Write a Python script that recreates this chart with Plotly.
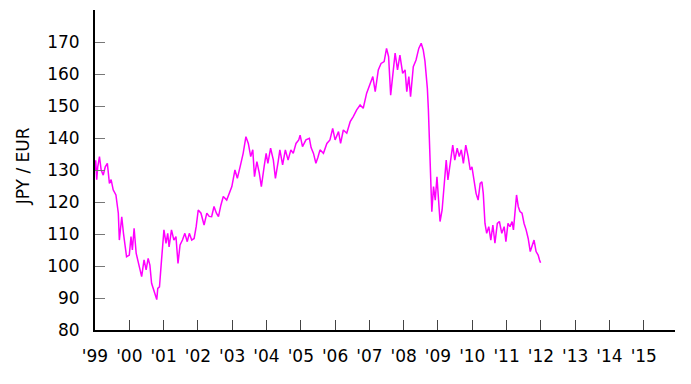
import plotly.graph_objects as go

# Decimal-year time points
years = [
    1999.00, 1999.02, 1999.05, 1999.08, 1999.13, 1999.18, 1999.24, 1999.30, 1999.36, 1999.42,
    1999.47, 1999.53, 1999.61, 1999.68, 1999.71, 1999.78, 1999.83, 1999.88, 1999.92, 2000.00,
    2000.05, 2000.09, 2000.14, 2000.20, 2000.25, 2000.29, 2000.36, 2000.43, 2000.49, 2000.55,
    2000.60, 2000.65, 2000.72, 2000.77, 2000.80, 2000.83, 2000.88, 2000.94, 2001.01, 2001.07,
    2001.12, 2001.16, 2001.23, 2001.30, 2001.36, 2001.42, 2001.48, 2001.55, 2001.62, 2001.69,
    2001.75, 2001.82, 2001.89, 2001.95, 2002.01, 2002.09, 2002.18, 2002.26, 2002.33, 2002.40,
    2002.47, 2002.54, 2002.60, 2002.67, 2002.74, 2002.84, 2002.92, 2002.99, 2003.08, 2003.15,
    2003.23, 2003.32, 2003.40, 2003.47, 2003.54, 2003.60, 2003.65, 2003.72, 2003.79, 2003.85,
    2003.93, 2003.99, 2004.04, 2004.12, 2004.20, 2004.26, 2004.34, 2004.39, 2004.47, 2004.55,
    2004.63, 2004.71, 2004.78, 2004.86, 2004.94, 2004.98, 2005.05, 2005.15, 2005.25, 2005.30,
    2005.37, 2005.44, 2005.50, 2005.56, 2005.66, 2005.76, 2005.85, 2005.93, 2006.00, 2006.10,
    2006.16, 2006.24, 2006.34, 2006.44, 2006.53, 2006.63, 2006.73, 2006.82, 2006.92, 2007.02,
    2007.10, 2007.17, 2007.26, 2007.34, 2007.43, 2007.50, 2007.56, 2007.62, 2007.68, 2007.75,
    2007.82, 2007.89, 2007.97, 2008.04, 2008.09, 2008.15, 2008.20, 2008.28, 2008.36, 2008.44,
    2008.51, 2008.57, 2008.62, 2008.65, 2008.69, 2008.72, 2008.75, 2008.79, 2008.82, 2008.87,
    2008.92, 2008.97, 2009.01, 2009.06, 2009.12, 2009.18, 2009.24, 2009.29, 2009.35, 2009.43,
    2009.49, 2009.56, 2009.62, 2009.68, 2009.74, 2009.81, 2009.88, 2009.94, 2009.99, 2010.05,
    2010.11, 2010.17, 2010.23, 2010.28, 2010.32, 2010.37, 2010.42, 2010.48, 2010.54, 2010.60,
    2010.66, 2010.73, 2010.79, 2010.86, 2010.93, 2010.98, 2011.04, 2011.10, 2011.16, 2011.20,
    2011.25, 2011.29, 2011.34, 2011.39, 2011.45, 2011.51, 2011.57, 2011.63, 2011.69, 2011.74,
    2011.80, 2011.86, 2011.92, 2011.96, 2011.99,
]

# JPY per EUR values
jpy_per_eur = [
    130.0, 133.0, 127.0, 131.0, 134.2, 130.0, 128.4, 131.0, 132.1, 125.8,
    127.0, 123.8, 122.2, 116.5, 108.1, 115.4, 110.2, 106.0, 102.9, 103.4,
    109.2, 105.0, 111.8, 104.0, 102.0, 99.8, 96.7, 101.9, 98.8, 102.4,
    100.3, 94.6, 92.5, 90.4, 89.5, 93.0, 93.5, 101.9, 111.3, 107.1,
    110.2, 106.0, 111.3, 108.1, 109.2, 100.8, 106.6, 108.1, 110.2, 107.6,
    110.2, 108.1, 108.6, 112.3, 117.5, 116.5, 112.8, 116.5, 115.5, 115.4,
    118.6, 116.5, 115.4, 119.0, 121.7, 120.6, 123.0, 124.8, 130.0, 127.4,
    131.0, 135.2, 140.4, 138.3, 134.2, 136.3, 127.9, 132.6, 129.0, 124.8,
    131.0, 135.2, 132.1, 136.8, 133.1, 127.4, 132.6, 136.3, 131.6, 136.3,
    133.1, 136.3, 135.2, 138.3, 139.4, 140.9, 137.3, 139.4, 139.9, 137.0,
    135.2, 132.1, 134.0, 136.3, 135.2, 138.3, 139.4, 143.0, 139.4, 142.0,
    138.3, 142.5, 141.5, 145.1, 146.7, 148.8, 150.3, 149.3, 154.0, 157.1,
    159.2, 154.5, 161.3, 163.3, 163.9, 168.0, 165.4, 153.4, 160.2, 166.5,
    161.3, 165.9, 160.2, 161.3, 154.5, 159.2, 152.9, 162.3, 164.4, 168.0,
    169.6, 167.5, 164.0, 160.2, 155.5, 148.8, 139.4, 129.0, 117.0, 124.8,
    120.6, 127.9, 121.7, 113.9, 117.5, 125.8, 133.1, 126.9, 132.1, 137.8,
    133.1, 136.8, 134.2, 136.3, 132.1, 137.8, 134.2, 130.0, 131.0, 126.9,
    122.7, 120.6, 125.8, 126.3, 122.7, 113.3, 110.2, 112.3, 108.1, 112.8,
    107.1, 113.3, 113.9, 110.2, 112.3, 107.6, 113.3, 112.3, 113.9, 111.3,
    118.6, 122.2, 118.6, 117.0, 116.5, 113.3, 111.3, 108.6, 104.5, 106.0,
    108.1, 104.5, 103.4, 101.9, 101.0,
]

x_tick_vals = list(range(1999, 2016))
x_tick_text = ["'99", "'00", "'01", "'02", "'03", "'04", "'05", "'06", "'07",
               "'08", "'09", "'10", "'11", "'12", "'13", "'14", "'15"]
y_tick_vals = [80, 90, 100, 110, 120, 130, 140, 150, 160, 170]

FONT = "DejaVu Sans, Arial, sans-serif"

fig = go.Figure()
fig.add_trace(go.Scatter(
    x=years, y=jpy_per_eur, mode="lines",
    line=dict(color="#ff00ff", width=1.5),
    hoverinfo="skip", showlegend=False,
))

fig.update_layout(
    width=691, height=384,
    margin=dict(l=95, r=16, t=10, b=54),
    paper_bgcolor="white", plot_bgcolor="white",
    font=dict(family=FONT, size=17, color="black"),
    showlegend=False,
)

fig.update_xaxes(
    range=[1999, 2015.91],
    tickvals=x_tick_vals, ticktext=x_tick_text,
    ticks="inside", ticklen=10, tickwidth=1, tickcolor="#444444",
    showline=True, linecolor="black", linewidth=2,
    showgrid=False, zeroline=False,
    tickfont=dict(family=FONT, size=17, color="black"),
    ticklabelstandoff=10,
)

fig.update_yaxes(
    range=[80, 180],
    tickvals=y_tick_vals,
    ticks="inside", ticklen=10, tickwidth=1, tickcolor="#777777",
    showline=True, linecolor="black", linewidth=2,
    showgrid=False, zeroline=False,
    tickfont=dict(family=FONT, size=17, color="black"),
    ticklabelstandoff=10,
)

fig.add_annotation(
    text="JPY / EUR", textangle=-90,
    xref="paper", yref="paper",
    x=-0.125, y=0.51, xanchor="center", yanchor="middle",
    showarrow=False,
    font=dict(family=FONT, size=17, color="black"),
)

fig.write_html("out.html")
